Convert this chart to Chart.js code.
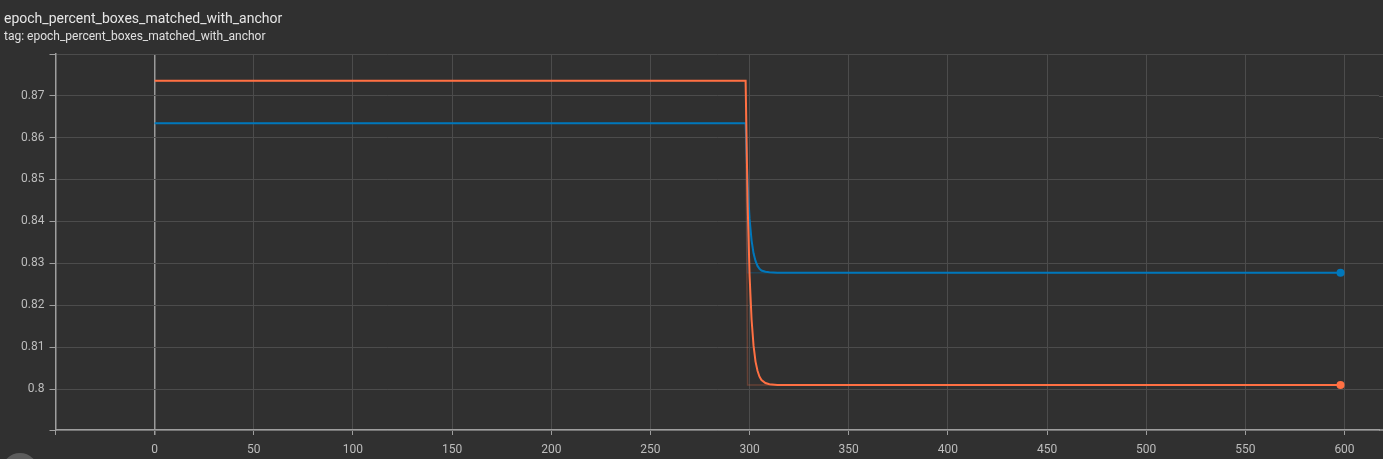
<!DOCTYPE html>
<html>
<head>
<meta charset="utf-8">
<script src="https://cdn.jsdelivr.net/npm/chart.js@4"></script>
<style>
  html, body { margin: 0; padding: 0; background: #303030; overflow: hidden; }
  #wrap { position: relative; width: 1383px; height: 459px; }
  #chart { position: absolute; left: 0; top: 0; }
  .title { position: absolute; left: 4px; top: 10px; font-family: Roboto, sans-serif; font-size: 14px; color: #e6e6e6; white-space: nowrap; }
  .tag { position: absolute; left: 4px; top: 29px; font-family: Roboto, sans-serif; font-size: 12px; color: #e0e0e0; white-space: nowrap; }
  .fab { position: absolute; left: 2px; top: 453px; width: 36px; height: 36px; border-radius: 50%; background: #5c5c5c; }
</style>
</head>
<body>
<div id="wrap">
  <canvas id="chart" width="1383" height="459"></canvas>
  <div class="title">epoch_percent_boxes_matched_with_anchor</div>
  <div class="tag">tag: epoch_percent_boxes_matched_with_anchor</div>
  <div class="fab"></div>
</div>
<script>
// steps (smoothed curves, then the faint raw runs)
var smoothSteps = [0, 298, 299, 300, 301, 302, 303, 304, 305, 306, 308, 310, 314, 320, 598];
var orangeSmooth = [0.8735, 0.8735, 0.8445, 0.8271, 0.8167, 0.8104, 0.8066, 0.8044, 0.8030, 0.8022, 0.8015, 0.8012, 0.8010, 0.8010, 0.8010];
var blueSmooth = [0.8634, 0.8634, 0.8492, 0.8406, 0.8355, 0.8324, 0.8306, 0.8294, 0.8287, 0.8283, 0.8280, 0.8279, 0.8278, 0.8278, 0.8278];

var rawSteps = [0, 298, 299, 598];
var orangeRaw = [0.8735, 0.8735, 0.8010, 0.8010];
var blueRaw = [0.8634, 0.8634, 0.8278, 0.8278];

var xTicks = [0, 50, 100, 150, 200, 250, 300, 350, 400, 450, 500, 550, 600];
var yTicks = [0.80, 0.81, 0.82, 0.83, 0.84, 0.85, 0.86, 0.87];
var xMin = -50, xMax = 617.4;
var yMin = 0.7903, yMax = 0.8799;

var gridColor = '#4c4c4c';
var orange = '#ff7043';
var blue = '#0077bb';

function toPoints(xs, ys) {
    return xs.map(function(x, i) { return { x: x, y: ys[i] }; });
}

function lastPointRadius(ctx) {
    return ctx.dataIndex === ctx.dataset.data.length - 1 ? 4 : 0;
}

// chart.js keeps a few px free on the right for the end dots; carry the grid to the edge
var gridToEdge = {
    id: 'gridToEdge',
    beforeDatasetsDraw: function(chart) {
        var c = chart.ctx, y = chart.scales.y, right = chart.chartArea.right;
        c.save();
        c.strokeStyle = gridColor;
        c.lineWidth = 1;
        y.ticks.forEach(function(t) {
            if (t.value === yMin) return;
            var py = Math.round(y.getPixelForValue(t.value)) + 0.5;
            c.beginPath();
            c.moveTo(right, py);
            c.lineTo(chart.width, py);
            c.stroke();
        });
        c.strokeStyle = '#9e9e9e';
        c.lineWidth = 1.5;
        var by = chart.chartArea.bottom;
        c.beginPath();
        c.moveTo(right, by);
        c.lineTo(chart.width, by);
        c.stroke();
        c.restore();
    }
};

var chart = new Chart(document.getElementById('chart'), {
    type: 'line',
    data: {
        datasets: [{
            data: toPoints(smoothSteps, orangeSmooth),
            borderColor: orange,
            backgroundColor: orange,
            borderWidth: 2,
            pointRadius: lastPointRadius,
            pointBorderWidth: 0
        }, {
            data: toPoints(smoothSteps, blueSmooth),
            borderColor: blue,
            backgroundColor: blue,
            borderWidth: 2,
            pointRadius: lastPointRadius,
            pointBorderWidth: 0
        }, {
            data: toPoints(rawSteps, orangeRaw),
            borderColor: 'rgba(255,112,67,0.25)',
            borderWidth: 1.5,
            pointRadius: 0
        }, {
            data: toPoints(rawSteps, blueRaw),
            borderColor: 'rgba(0,119,187,0.25)',
            borderWidth: 1.5,
            pointRadius: 0
        }]
    },
    plugins: [gridToEdge],
    options: {
        responsive: false,
        animation: false,
        layout: { padding: { top: 54, right: 0, bottom: 0, left: 0 } },
        plugins: { legend: { display: false }, tooltip: { enabled: false } },
        scales: {
            x: {
                type: 'linear',
                min: xMin,
                max: xMax,
                afterBuildTicks: function(scale) {
                    scale.ticks = [{ value: xMin }].concat(xTicks.map(function(v) { return { value: v }; }));
                },
                afterFit: function(scale) { scale.height = 29; },
                ticks: {
                    color: '#bdbdbd',
                    font: { family: 'Roboto', size: 12 },
                    padding: 8,
                    maxRotation: 0,
                    callback: function(v) { return v === xMin ? '' : String(v); }
                },
                grid: {
                    color: function(ctx) { return ctx.tick && ctx.tick.value === 0 ? '#9a9a9a' : gridColor; },
                    lineWidth: function(ctx) { return ctx.tick && ctx.tick.value === 0 ? 1.5 : 1; },
                    tickColor: '#9e9e9e',
                    tickLength: 5
                },
                border: { color: '#9e9e9e', width: 1.5 }
            },
            y: {
                type: 'linear',
                min: yMin,
                max: yMax,
                afterBuildTicks: function(scale) {
                    scale.ticks = [{ value: yMin }].concat(yTicks.map(function(v) { return { value: v }; }), [{ value: yMax }]);
                },
                afterFit: function(scale) { scale.width = 55.5; },
                ticks: {
                    color: '#bdbdbd',
                    font: { family: 'Roboto', size: 12 },
                    padding: 5,
                    callback: function(v) {
                        if (v === yMin || v === yMax) return '';
                        return String(Math.round(v * 100) / 100);
                    }
                },
                grid: {
                    color: gridColor,
                    tickColor: '#9e9e9e',
                    tickLength: 6
                },
                border: { color: '#9e9e9e', width: 1.5 }
            }
        }
    }
});
</script>
</body>
</html>
